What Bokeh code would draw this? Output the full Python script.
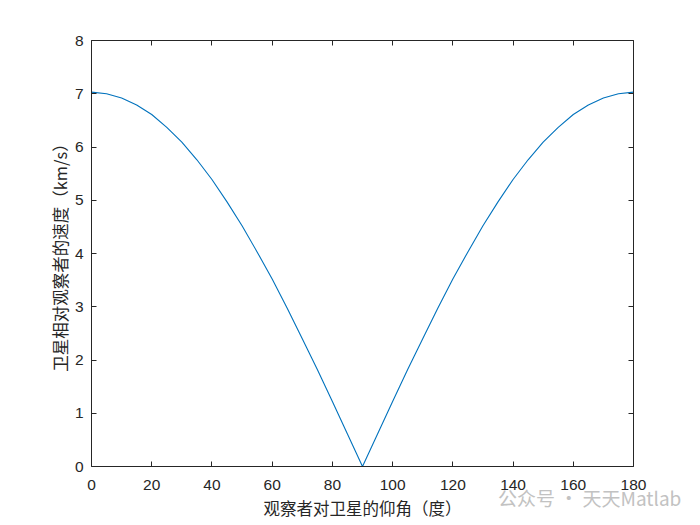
from bokeh.plotting import figure
from bokeh.models import LinearAxis, Range1d, FixedTicker, Div
from bokeh.layouts import column
from bokeh.embed import file_html
from bokeh.resources import INLINE

# Elevation angle (degrees) and relative speed (km/s)
angle = [0, 5, 10, 15, 20, 25, 30, 35, 40, 45, 50, 55, 60, 65, 70, 75, 80, 85, 90,
         95, 100, 105, 110, 115, 120, 125, 130, 135, 140, 145, 150, 155, 160, 165, 170, 175, 180]
speed = [7.03, 7.00, 6.92, 6.79, 6.61, 6.37, 6.09, 5.76, 5.39, 4.97, 4.52, 4.03, 3.52, 2.97, 2.40, 1.82, 1.22, 0.61, 0.00,
         0.61, 1.22, 1.82, 2.40, 2.97, 3.52, 4.03, 4.52, 4.97, 5.39, 5.76, 6.09, 6.37, 6.61, 6.79, 6.92, 7.00, 7.03]
x_ticks = [0, 20, 40, 60, 80, 100, 120, 140, 160, 180]
y_ticks = [0, 1, 2, 3, 4, 5, 6, 7, 8]
x_label = "观察者对卫星的仰角（度）"
y_label = "卫星相对观察者的速度（km/s）"
watermark = "公众号 · 天天Matlab"

AX = "#262626"
fig = figure(output_backend="svg", toolbar_location=None,
             frame_width=542, frame_height=426,
             min_border_left=91, min_border_top=40, min_border_right=50, min_border_bottom=59,
             x_range=Range1d(0, 180), y_range=Range1d(0, 8),
             background_fill_color="white", border_fill_color="white")
fig.outline_line_color = None
fig.grid.visible = False

fig.line(angle, speed, line_color="#0072BD", line_width=1.1)

def style(ax, labels=True):
    ax.axis_line_color = AX
    ax.axis_line_width = 1
    ax.major_tick_line_color = AX
    ax.major_tick_in = 5
    ax.major_tick_out = 0
    ax.minor_tick_line_color = None
    ax.major_label_text_font = "Liberation Sans"
    ax.major_label_text_font_size = "15.5px"
    ax.major_label_text_color = AX
    if not labels:
        ax.major_label_text_font_size = "0px"
        ax.major_label_text_color = None

fig.xaxis.ticker = FixedTicker(ticks=x_ticks)
fig.yaxis.ticker = FixedTicker(ticks=y_ticks)
for ax in fig.xaxis + fig.yaxis:
    style(ax)
fig.xaxis.major_label_standoff = 13
fig.yaxis.major_label_standoff = 8

fig.xaxis.axis_label = x_label
fig.yaxis.axis_label = y_label
for ax in fig.xaxis + fig.yaxis:
    ax.axis_label_text_font = "Noto Sans CJK SC"
    ax.axis_label_text_font_size = "16.5px"
    ax.axis_label_text_font_style = "normal"
    ax.axis_label_text_color = AX
fig.xaxis.axis_label_standoff = 3
fig.yaxis.axis_label_standoff = 0

top = LinearAxis(ticker=FixedTicker(ticks=x_ticks))
right = LinearAxis(ticker=FixedTicker(ticks=y_ticks))
style(top, False)
style(right, False)
fig.add_layout(top, "above")
fig.add_layout(right, "right")

wm = Div(text=watermark, width=200, height=0,
         styles={"position": "relative", "top": "-44px", "left": "493px",
                 "overflow": "visible", "white-space": "nowrap",
                 "font-family": "Noto Sans CJK SC", "font-size": "19px",
                 "line-height": "24px", "color": "#c2c2c2"})

p = column(fig, wm, spacing=0)

open("out.html", "w").write(file_html(p, INLINE))
